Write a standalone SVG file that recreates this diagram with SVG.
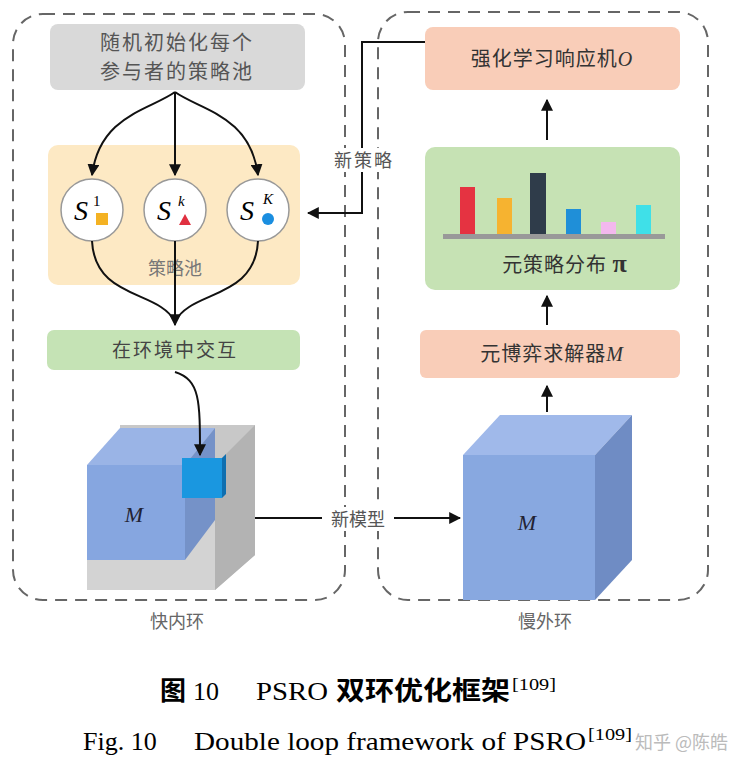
<svg xmlns="http://www.w3.org/2000/svg" width="744" height="770" viewBox="0 0 744 770">
<style>
.cn{font-family:"Noto Sans CJK SC","Liberation Serif",serif;}
.dash{fill:none;stroke:#666;stroke-width:2;stroke-dasharray:12 8;}
.ln{fill:none;stroke:#111;stroke-width:2;}
.it{font-family:"Liberation Serif",serif;font-style:italic;}
</style>
<defs>
<marker id="a" viewBox="0 0 10 10" refX="9" refY="5" markerWidth="6" markerHeight="6" orient="auto"><path d="M0,0L10,5L0,10z" fill="#111"/></marker>
</defs>
<rect width="744" height="770" fill="#fff"/>
<g id="inner-loop"><rect class="dash" x="13" y="14" width="332" height="586" rx="30"/><text class="cn" x="177" y="628" font-size="18" fill="#666" text-anchor="middle">快内环</text></g>
<g id="outer-loop"><rect class="dash" x="378" y="12" width="330" height="588" rx="30"/><text class="cn" x="545" y="628" font-size="18" fill="#666" text-anchor="middle">慢外环</text></g>
<g id="init"><rect x="50" y="24" width="255" height="66" rx="8" fill="#d9d9d9"/><text class="cn" x="177" y="50" font-size="20" fill="#555" text-anchor="middle" letter-spacing="2">随机初始化每个</text><text class="cn" x="177" y="79" font-size="20" fill="#555" text-anchor="middle" letter-spacing="2">参与者的策略池</text></g>
<g id="pool"><rect x="48" y="145" width="252" height="140" rx="10" fill="#fde9c4"/><text class="cn" x="175" y="275" font-size="18" fill="#777" text-anchor="middle">策略池</text></g>
<g id="s1"><circle cx="92" cy="210" r="31" fill="#fff" stroke="#999" stroke-width="1.5"/><text class="it" x="74" y="220" font-size="28">S</text><text font-family="Liberation Serif" x="93" y="206" font-size="15">1</text><rect x="96" y="213" width="12" height="12" fill="#f4b223"/></g>
<g id="sk"><circle cx="175" cy="210" r="31" fill="#fff" stroke="#999" stroke-width="1.5"/><text class="it" x="157" y="220" font-size="28">S</text><text class="it" x="178" y="206" font-size="15">k</text><path d="M179,225L185,214L191,225z" fill="#e03040"/></g>
<g id="sK"><circle cx="258" cy="210" r="31" fill="#fff" stroke="#999" stroke-width="1.5"/><text class="it" x="240" y="220" font-size="28">S</text><text class="it" x="263" y="204" font-size="15">K</text><circle cx="268" cy="219" r="6" fill="#1a8ee0"/></g>
<g id="interact"><rect x="47" y="330" width="253" height="40" rx="7" fill="#c5e3b5"/><text class="cn" x="175" y="357" font-size="19" fill="#444" text-anchor="middle" letter-spacing="2">在环境中交互</text></g>
<g id="inner-cube">
<path d="M120,425L255,425L255,555L215,590L215,465L120,465z" fill="#c8c8c8"/>
<path d="M215,465L255,425L255,555L215,590z" fill="#b3b3b3"/>
<rect x="87" y="465" width="128" height="125" fill="#d3d3d3"/>
<path d="M87,465L120,428L215,428L185,465z" fill="#9ab4e6"/>
<path d="M185,465L215,428L215,520L185,560z" fill="#7592c8"/>
<rect x="87" y="465" width="98" height="95" fill="#86a6e0"/>
<rect x="182" y="458" width="40" height="40" fill="#1a97e0"/>
<path d="M222,458L226,454L226,494L222,498z" fill="#0f6fb0"/>
<text class="it" x="134" y="522" font-size="22" fill="#223" text-anchor="middle">M</text>
</g>
<g id="policy-br"><rect x="425" y="27" width="255" height="63" rx="8" fill="#f9cdb8"/><text class="cn" x="552" y="66" font-size="20" fill="#333" text-anchor="middle" letter-spacing="1">强化学习响应机<tspan class="it">O</tspan></text></g>
<g id="meta-dist"><rect x="425" y="147" width="255" height="143" rx="10" fill="#c6e2b4"/>
<rect x="460" y="187" width="15" height="48" fill="#e53341"/><rect x="497" y="198" width="15" height="37" fill="#f6b330"/><rect x="530" y="173" width="16" height="62" fill="#2f3c4a"/><rect x="566" y="209" width="15" height="26" fill="#1f8fd8"/><rect x="601" y="222" width="15" height="13" fill="#f3b8ee"/><rect x="636" y="205" width="15" height="30" fill="#3fe0e8"/>
<rect x="443" y="234" width="222" height="5" fill="#999"/>
<text class="cn" x="565" y="272" font-size="20" fill="#333" text-anchor="middle" letter-spacing="1">元策略分布 <tspan font-family="Liberation Serif" font-weight="bold" font-size="26">π</tspan></text></g>
<g id="solver"><rect x="420" y="330" width="260" height="48" rx="6" fill="#f9cdb8"/><text class="cn" x="552" y="361" font-size="20" fill="#333" text-anchor="middle" letter-spacing="1">元博弈求解器<tspan class="it">M</tspan></text></g>
<g id="outer-cube">
<path d="M463,455L500,415L632,415L595,455z" fill="#a0b9ea"/>
<path d="M595,455L632,415L632,560L595,600z" fill="#6f8cc4"/>
<rect x="463" y="455" width="132" height="145" fill="#88a8e0"/>
<text class="it" x="527" y="530" font-size="22" fill="#223" text-anchor="middle">M</text>
</g>
<g id="connectors">
<path class="ln" d="M175,92C150,110 100,115 92,175" marker-end="url(#a)"/>
<path class="ln" d="M175,92L175,175" marker-end="url(#a)"/>
<path class="ln" d="M175,92C200,110 250,115 258,175" marker-end="url(#a)"/>
<path class="ln" d="M92,241C95,300 160,290 175,322"/>
<path class="ln" d="M258,241C255,300 190,290 175,322"/>
<path class="ln" d="M175,241L175,325" marker-end="url(#a)"/>
<path class="ln" d="M175,372C200,380 200,400 200,455" marker-end="url(#a)"/>
<path class="ln" d="M425,42L362,42L362,213L308,213" marker-end="url(#a)"/>
<rect x="328" y="148" width="72" height="24" fill="#fff"/>
<text class="cn" x="364" y="167" font-size="18" fill="#555" text-anchor="middle" letter-spacing="2">新策略</text>
<path class="ln" d="M255,518L460,518" marker-end="url(#a)"/>
<rect x="322" y="507" width="72" height="24" fill="#fff"/>
<text class="cn" x="358" y="526" font-size="18" fill="#555" text-anchor="middle">新模型</text>
<path class="ln" d="M547,140L547,100" marker-end="url(#a)"/>
<path class="ln" d="M547,325L547,296" marker-end="url(#a)"/>
<path class="ln" d="M547,412L547,386" marker-end="url(#a)"/>
</g>
<g id="caption">
<text x="160" y="700" font-size="26" font-family="Noto Sans CJK SC,sans-serif" font-weight="bold">图</text>
<text x="193" y="700" font-size="26" font-family="Liberation Serif,serif">10</text>
<text x="256" y="700" font-size="26" font-family="Liberation Serif,serif" textLength="72" lengthAdjust="spacingAndGlyphs">PSRO</text>
<text x="336" y="700" font-size="26" font-family="Noto Sans CJK SC,sans-serif" font-weight="bold" textLength="174" lengthAdjust="spacingAndGlyphs">双环优化框架</text>
<text x="512" y="690" font-size="17" font-family="Liberation Serif,serif" textLength="44" lengthAdjust="spacingAndGlyphs">[109]</text>
<text x="83" y="750" font-size="26" font-family="Liberation Serif,serif">Fig. 10</text>
<text x="194" y="750" font-size="26" font-family="Liberation Serif,serif" textLength="392" lengthAdjust="spacingAndGlyphs">Double loop framework of PSRO</text>
<text x="588" y="740" font-size="17" font-family="Liberation Serif,serif" textLength="44" lengthAdjust="spacingAndGlyphs">[109]</text>
<text class="cn" x="728" y="749" font-size="18" fill="#bbb" text-anchor="end">知乎 @陈皓</text>
</g>
</svg>
